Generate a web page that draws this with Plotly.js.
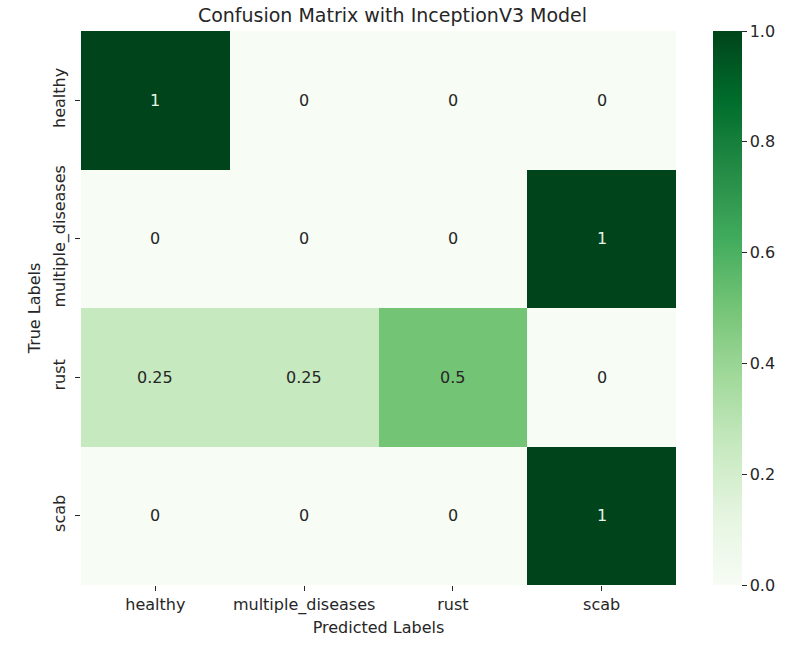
<!DOCTYPE html>
<html><head><meta charset="utf-8">
<script src="https://cdn.plot.ly/plotly-3.0.1.min.js"></script>
<style>html,body{margin:0;padding:0;background:#fff}#chart{width:801px;height:651px}</style>
</head><body><div id="chart"></div>
<script>
const predictedLabels = ["healthy", "multiple_diseases", "rust", "scab"];
const trueLabels = ["healthy", "multiple_diseases", "rust", "scab"];
const rowHealthy = [1, 0, 0, 0];
const rowMultiple = [0, 0, 0, 1];
const rowRust = [0.25, 0.25, 0.5, 0];
const rowScab = [0, 0, 0, 1];
const matrix = [rowHealthy, rowMultiple, rowRust, rowScab];
const colorbarTicks = [0, 0.2, 0.4, 0.6, 0.8, 1.0];
const colorbarTickText = ["0.0", "0.2", "0.4", "0.6", "0.8", "1.0"];

const greens = [
  [0.0, "#f7fcf5"], [0.125, "#e5f5e0"], [0.25, "#c7e9c0"], [0.375, "#a1d99b"],
  [0.5, "#74c476"], [0.625, "#41ab5d"], [0.75, "#238b45"], [0.875, "#006d2c"], [1.0, "#00441b"]
];
const font = "DejaVu Sans, sans-serif";
const fs = 16;

const annotations = [];
matrix.forEach((row, i) => row.forEach((v, j) => {
  annotations.push({
    x: predictedLabels[j], y: trueLabels[i], xref: "x", yref: "y",
    text: String(v), showarrow: false,
    font: {family: font, size: fs, color: v > 0.6 ? "#e8f4e8" : "#262626"}
  });
}));

const trace = {
  type: "heatmap", z: matrix, x: predictedLabels, y: trueLabels,
  colorscale: greens, zmin: 0, zmax: 1, xgap: 0, ygap: 0,
  hoverinfo: "none",
  colorbar: {
    x: 1.062, xanchor: "left", xpad: 0, y: 0.5, yanchor: "middle", ypad: 0,
    len: 1, lenmode: "fraction", thickness: 29, outlinewidth: 0,
    tickmode: "array", tickvals: colorbarTicks, ticktext: colorbarTickText,
    ticks: "outside", ticklen: 5, tickwidth: 1, tickcolor: "#262626",
    tickfont: {family: font, size: fs, color: "#262626"}
  }
};

const layout = {
  width: 801, height: 651,
  margin: {l: 81, r: 125, t: 31, b: 66},
  paper_bgcolor: "#fff", plot_bgcolor: "#fff",
  title: {text: "Confusion Matrix with InceptionV3 Model", x: 0.49, xanchor: "center", y: 0.977, yanchor: "middle",
          font: {family: font, size: 19, color: "#262626"}},
  xaxis: {
    title: {text: "Predicted Labels", font: {family: font, size: fs, color: "#262626"}, standoff: 7},
    tickfont: {family: font, size: fs, color: "#262626"},
    ticks: "outside", ticklen: 5, tickcolor: "#262626", showgrid: false, zeroline: false, showline: false
  },
  yaxis: {
    autorange: "reversed",
    title: {text: "True Labels", font: {family: font, size: fs, color: "#262626"}, standoff: 4},
    tickfont: {family: font, size: fs, color: "#262626"}, tickangle: -90, ticklabelstandoff: 4,
    ticks: "outside", ticklen: 5, tickcolor: "#262626", showgrid: false, zeroline: false, showline: false
  },
  annotations: annotations
};

Plotly.newPlot("chart", [trace], layout, {displayModeBar: false, staticPlot: true});
</script></body></html>
